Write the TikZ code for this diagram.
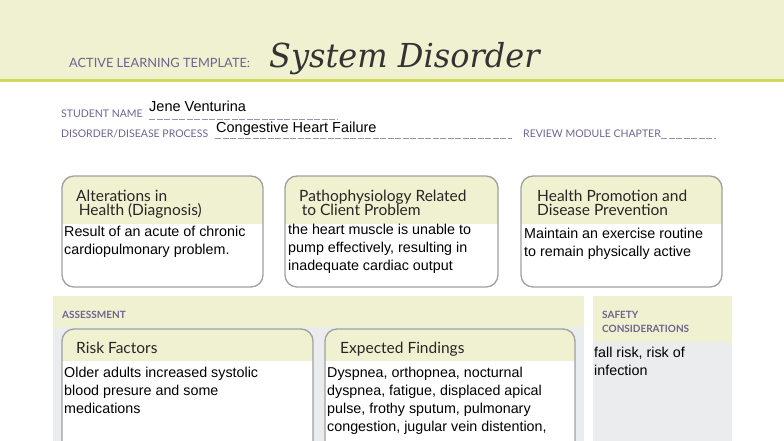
\documentclass[tikz,border=0pt]{standalone}
\usepackage{fontspec}
\setmainfont{Liberation Sans}
\newfontfamily\lato{Lato}
\newfontfamily\titlefont{DejaVu Serif}
\definecolor{cream}{HTML}{F0F1D0}
\definecolor{lime}{HTML}{D3D85A}
\definecolor{purp}{HTML}{6E6390}
\definecolor{greyp}{HTML}{EBECEE}
\definecolor{boxline}{HTML}{A0A0A0}
\tikzset{
  lbl/.style={text=purp,font=\lato\fontsize{10.5}{11}\selectfont,anchor=base west,inner sep=0},
  uline/.style={purp!70,line width=0.8pt,dash pattern=on 6pt off 1.5pt},
  hdr/.style={font=\lato\fontsize{15.5}{15}\selectfont,align=left,anchor=north west,inner sep=0,text=black!85},
  body/.style={font=\fontsize{14.3}{18}\selectfont,align=left,anchor=north west,inner sep=0},
}
\newcommand{\rbox}[6]{% x1 y1 x2 y2 headerbottom name
  \begin{scope}
  \clip[rounded corners=12pt] (#1,#2) rectangle (#3,#4);
  \fill[white] (#1,#2) rectangle (#3,#4);
  \fill[cream] (#1,#2) rectangle (#3,#5);
  \end{scope}
  \draw[boxline,line width=1.3pt,rounded corners=12pt] (#1,#2) rectangle (#3,#4);
  \coordinate (#6) at (#1,#2);
}
\begin{document}
\begin{tikzpicture}[x=1pt,y=-1pt]
\useasboundingbox (0,0) rectangle (784,441);
\fill[cream] (0,0) rectangle (784,80);
\fill[lime] (0,79) rectangle (784,82);
\node[lbl,font=\lato\fontsize{12.8}{13}\selectfont] (alt) at (69,68) {ACTIVE LEARNING TEMPLATE:};
\node[anchor=base west,inner sep=0,font=\titlefont\itshape\fontsize{33}{34}\selectfont,text=black!80,xscale=0.97] (title) at (269,68) {System Disorder};
\node[lbl] (sn) at (61,118) {STUDENT NAME};
\node[anchor=base west,inner sep=0,font=\fontsize{14.5}{14}\selectfont] (snv) at (149,112) {Jene Venturina};
\coordinate (sl1) at (149,119); \coordinate (sl2) at (337,119);
\draw[uline] (sl1) -- (sl2);
\node[lbl] (dp) at (61,138) {DISORDER/DISEASE PROCESS};
\node[anchor=base west,inner sep=0,font=\fontsize{14.5}{14}\selectfont] (dpv) at (216,132) {Congestive Heart Failure};
\coordinate (dl1) at (215,138); \coordinate (dl2) at (512,138);
\draw[uline] (dl1) -- (dl2);
\node[lbl] (rm) at (523,138) {REVIEW MODULE CHAPTER};
\coordinate (rl1) at (661,138); \coordinate (rl2) at (716,138);
\draw[uline] (rl1) -- (rl2);
% top boxes
\rbox{62}{176}{263}{287}{224}{b1}
\rbox{285}{176}{498}{287}{224}{b2}
\rbox{521}{176}{722}{287}{224}{b3}
\node[hdr] (h1) at (76,190) {Alterations in\\[-1pt]\,Health (Diagnosis)};
\node[hdr] (h2) at (299,190) {Pathophysiology Related\\[-1pt]\,to Client Problem};
\node[hdr] (h3) at (537,190) {Health Promotion and\\[-1pt]Disease Prevention};
\node[body] (t1) at (64,226) {Result of an acute of chronic\\cardiopulmonary problem.};
\node[body] (t2) at (288,224) {the heart muscle is unable to\\pump effectively, resulting in\\inadequate cardiac output};
\node[body] (t3) at (524,228) {Maintain an exercise routine\\to remain physically active};
% assessment
\fill[greyp] (53,296) rectangle (584,441);
\fill[cream] (53,296) rectangle (584,327);
\node[lbl,font=\lato\bfseries\fontsize{10}{10}\selectfont] (as) at (62,318) {ASSESSMENT};
\fill[greyp] (593,296) rectangle (732,441);
\fill[cream] (593,296) rectangle (732,342);
\node[lbl,font=\lato\bfseries\fontsize{10}{14}\selectfont,align=left,anchor=north west] (sc) at (602,311) {SAFETY\\CONSIDERATIONS};
\node[body] (st) at (594,347) {fall risk, risk of\\infection};
\rbox{62}{329}{313}{470}{361}{b4}
\rbox{325}{329}{575}{470}{361}{b5}
\node[hdr] (h4) at (76,342) {Risk Factors};
\node[hdr] (h5) at (340,342) {Expected Findings};
\node[body] (t4) at (64,367) {Older adults  increased systolic\\blood presure and some\\medications};
\node[body] (t5) at (327,367) {Dyspnea, orthopnea, nocturnal\\dyspnea, fatigue, displaced apical\\pulse, frothy sputum, pulmonary\\congestion, jugular vein distention,};
\end{tikzpicture}
\end{document}
